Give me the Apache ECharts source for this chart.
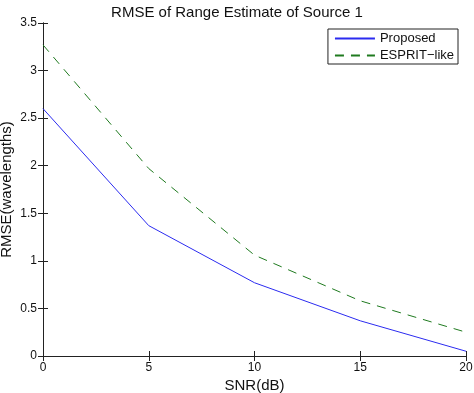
<!DOCTYPE html>
<html><head><meta charset="utf-8">
<script src="https://cdn.jsdelivr.net/npm/echarts@6/dist/echarts.min.js"></script>
<style>html,body{margin:0;padding:0;background:#fff}#c{width:474px;height:393px}</style>
</head><body><div id="c"></div>
<script>
const snr = [0, 5, 10, 15, 20];
const proposed = [2.60, 1.37, 0.77, 0.37, 0.05];
const espritLike = [3.27, 1.97, 1.06, 0.58, 0.25];
const xTicks = [0, 5, 10, 15, 20];
const yTicks = [0, 0.5, 1, 1.5, 2, 2.5, 3, 3.5];

const font = 'Liberation Sans, Arial, Helvetica, sans-serif';
const chart = echarts.init(document.getElementById('c'), null, {renderer: 'canvas'});
const axisCommon = {
  axisLine: {show: true, lineStyle: {color: '#222', width: 1}},
  axisTick: {show: true, inside: true, length: 5, lineStyle: {color: '#222'}},
  splitLine: {show: false},
};
chart.setOption({
  animation: false,
  title: {text: 'RMSE of Range Estimate of Source 1', left: 'center', top: 0,
    textStyle: {fontFamily: font, fontSize: 15, fontWeight: 'normal', color: '#111'}},
  grid: {left: 43, right: 8, top: 23, bottom: 37, containLabel: false, outerBoundsMode: 'none'},
  legend: {
    right: 16, top: 29, orient: 'vertical', itemWidth: 40, itemHeight: 10, itemGap: 4,
    backgroundColor: '#fff', borderColor: '#222', borderWidth: 1, padding: [3, 4, 2, 6],
    itemStyle: {opacity: 0},
    textStyle: {fontFamily: font, fontSize: 13, color: '#111'},
    data: ['Proposed', 'ESPRIT\u2212like']
  },
  xAxis: [
    Object.assign({type: 'value', min: 0, max: 20, interval: 5, position: 'bottom',
      name: 'SNR(dB)', nameLocation: 'middle', nameGap: 22, nameMoveOverlap: false,
      nameTextStyle: {fontFamily: font, fontSize: 15, color: '#111'},
      axisLabel: {fontFamily: font, fontSize: 12, color: '#111', margin: 6,
        customValues: xTicks}}, axisCommon),
    Object.assign({type: 'value', min: 0, max: 20, interval: 5, position: 'top',
      axisLabel: {show: false}}, axisCommon)
  ],
  yAxis: [
    Object.assign({type: 'value', min: 0, max: 3.5, interval: 0.5, position: 'left',
      name: 'RMSE(wavelengths)', nameLocation: 'middle', nameGap: 29, nameMoveOverlap: false,
      nameTextStyle: {fontFamily: font, fontSize: 15, color: '#111'},
      axisLabel: {fontFamily: font, fontSize: 12, color: '#111', margin: 6,
        customValues: yTicks, formatter: v => String(v)}}, axisCommon),
    Object.assign({type: 'value', min: 0, max: 3.5, interval: 0.5, position: 'right',
      axisLabel: {show: false}}, axisCommon)
  ],
  series: [
    {name: 'Proposed', type: 'line', symbol: 'none', data: snr.map((x, i) => [x, proposed[i]]),
      lineStyle: {color: '#2b2bf0', width: 1}, itemStyle: {color: '#2b2bf0'}},
    {name: 'ESPRIT\u2212like', type: 'line', symbol: 'none', data: snr.map((x, i) => [x, espritLike[i]]),
      lineStyle: {color: '#1f7a1f', width: 1, type: [9, 7]}, itemStyle: {color: '#1f7a1f'}}
  ]
});
</script></body></html>
